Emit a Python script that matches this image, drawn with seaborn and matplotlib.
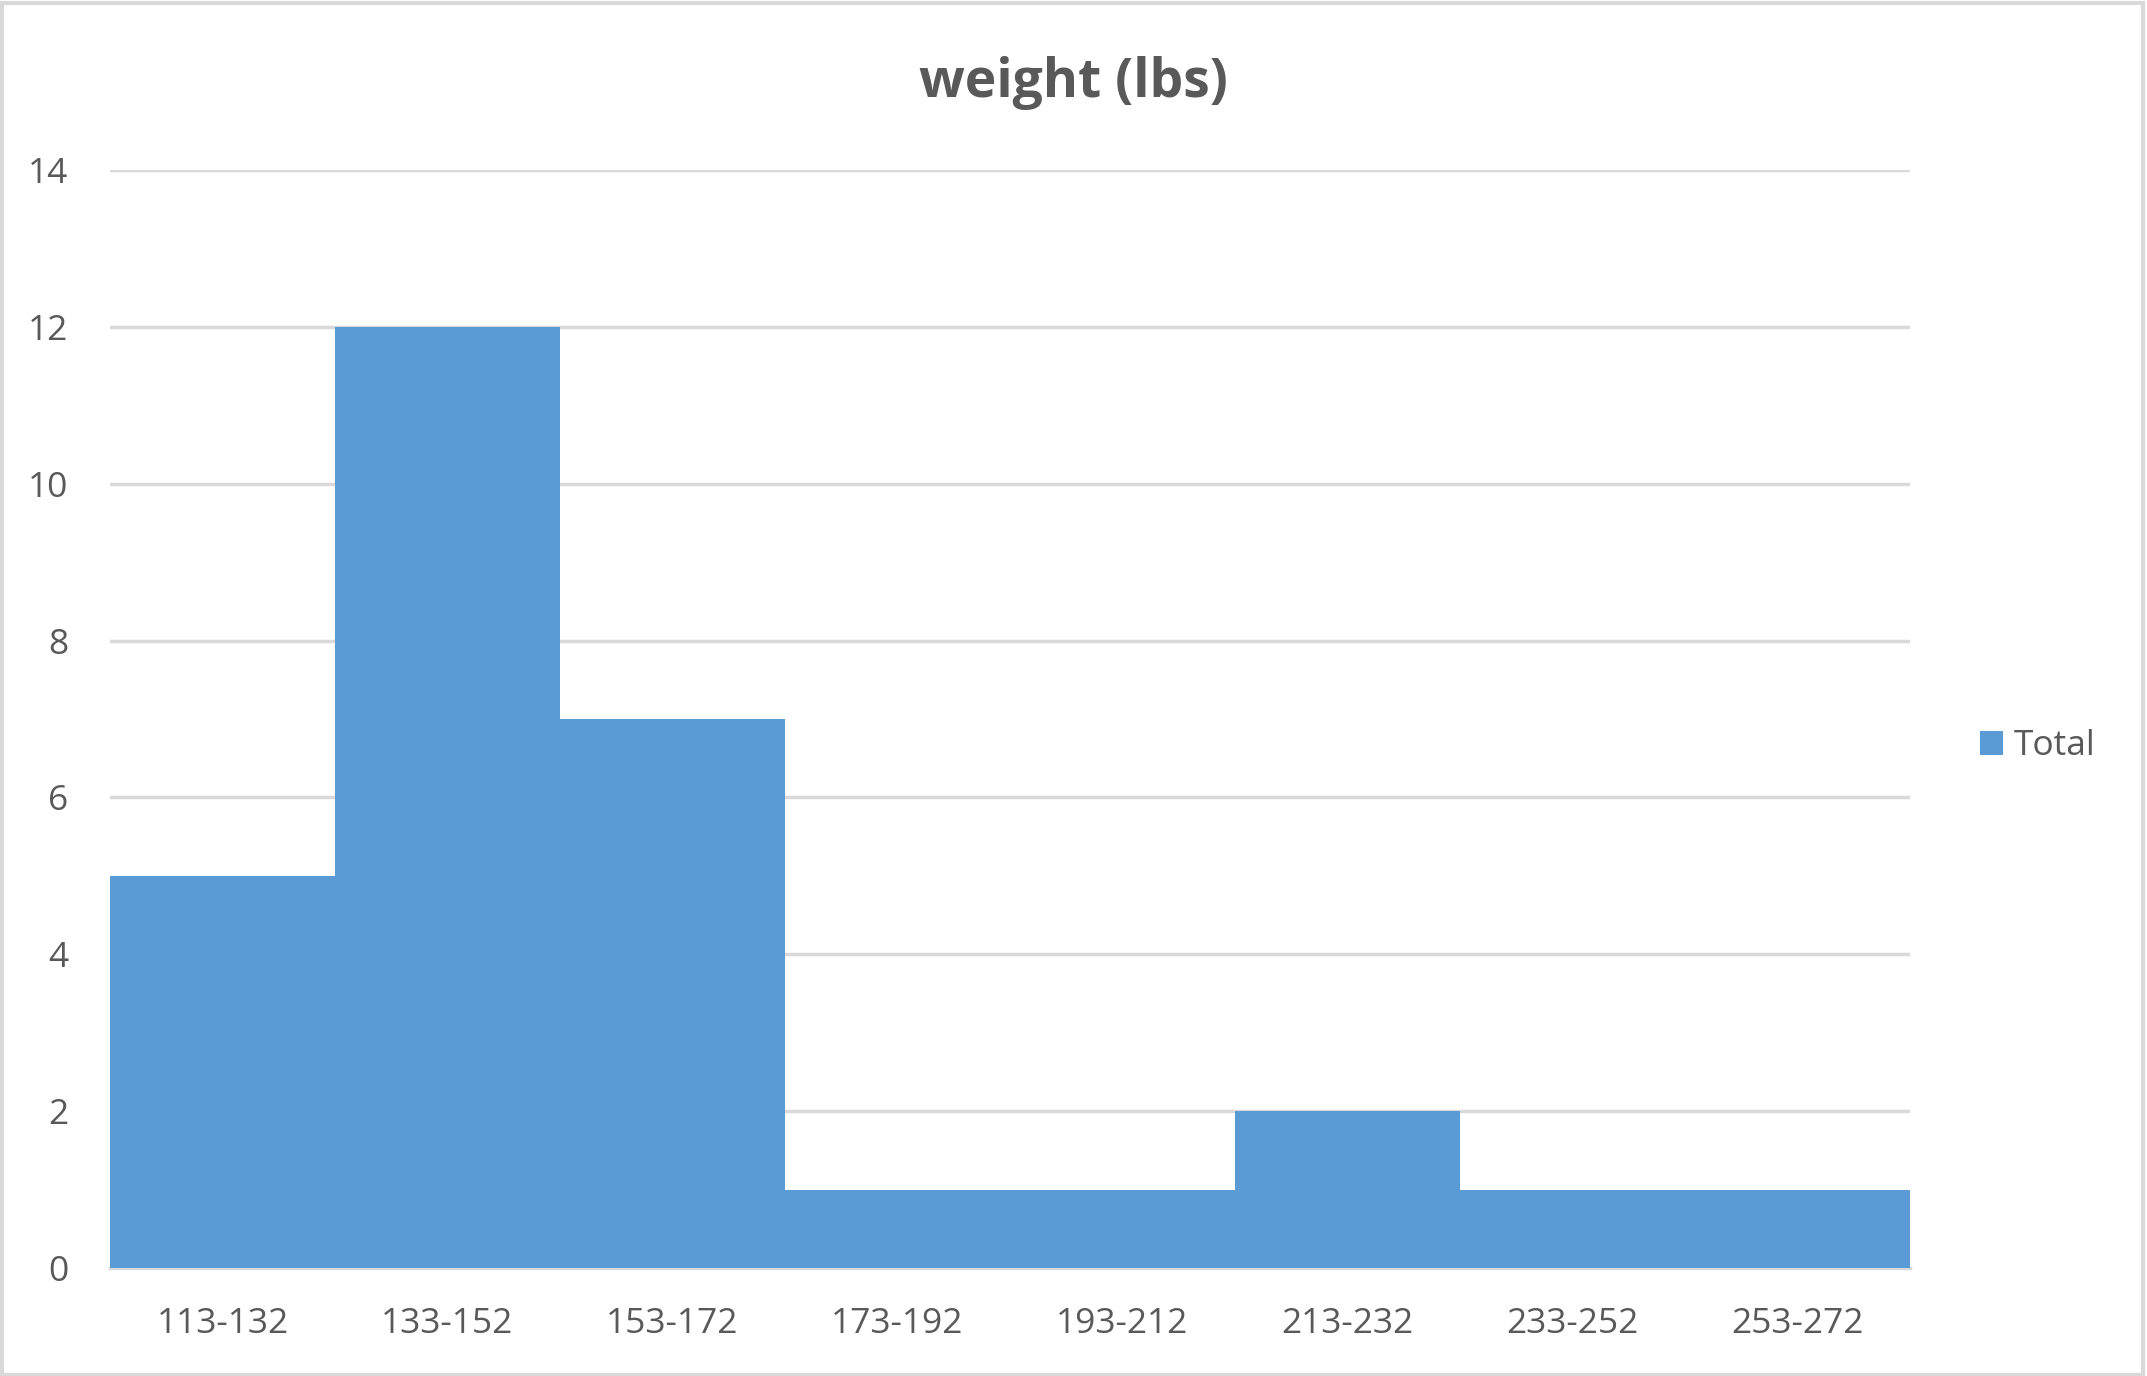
import pandas as pd
import seaborn as sns
import matplotlib.pyplot as plt
from matplotlib.patches import Rectangle

# Datos
bins = ["113-132", "133-152", "153-172", "173-192", "193-212", "213-232", "233-252", "253-272"]
counts = [5, 12, 7, 1, 1, 2, 1, 1]

df = pd.DataFrame({"bin": bins, "Total": counts})

sns.set_theme(style="white")
plt.rcParams['font.family'] = ['Open Sans', 'DejaVu Sans']

text_col = "#595959"
grid_col = "#D9D9D9"
bar_col = "#5B9BD5"

fig = plt.figure(figsize=(21.47, 13.76), dpi=100)
ax = fig.add_axes([0.0512, 0.0785, 0.8384, 0.798])

sns.barplot(data=df, x="bin", y="Total", color=bar_col, width=1.0,
            saturation=1, ax=ax, label="Total", zorder=3,
            linewidth=0, edgecolor=bar_col)

ax.set_ylim(0, 14)
ax.set_xlim(-0.5, len(bins) - 0.5)
ax.set_yticks(range(0, 15, 2))
ax.yaxis.grid(True, color=grid_col, linewidth=2.5, zorder=0)
ax.set_axisbelow(True)
for s in ["top", "right", "left"]:
    ax.spines[s].set_visible(False)
ax.spines["bottom"].set_color(grid_col)
ax.spines["bottom"].set_linewidth(2.5)

ax.set_xlabel("")
ax.set_ylabel("")
ax.tick_params(axis="both", length=0, labelsize=25.5, labelcolor=text_col)
ax.tick_params(axis="x", pad=28)
ax.tick_params(axis="y", pad=30)

fig.text(0.5, 0.94, "weight (lbs)", ha="center", va="center",
         fontsize=38.5, fontweight="bold", color=text_col)

leg = ax.legend(loc="center left", bbox_to_anchor=(1.021, 0.475), frameon=False,
                fontsize=25.5, handlelength=0.65, handleheight=0.65,
                handletextpad=0.3, labelcolor=text_col)

# Borde exterior del gráfico
fig.patches.append(Rectangle((0.001, 0.001), 0.997, 0.997, transform=fig.transFigure,
                             fill=False, edgecolor=grid_col, linewidth=3))

plt.savefig("out.png", dpi=100)
plt.close()
